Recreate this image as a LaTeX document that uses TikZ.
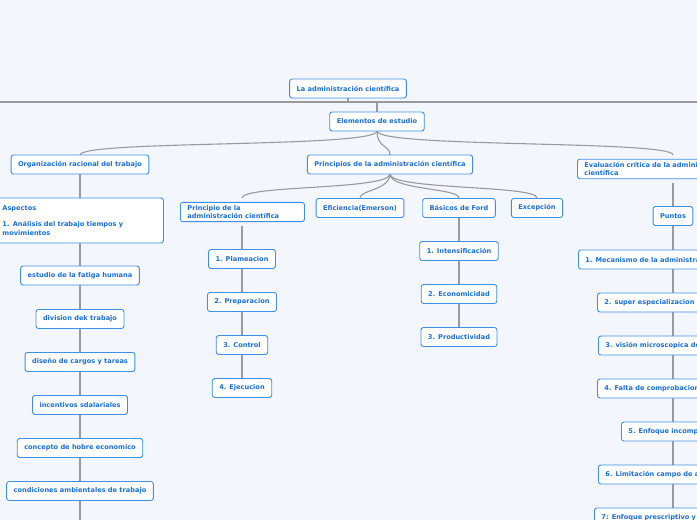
\documentclass[tikz,border=0pt]{standalone}
\usepackage{fontspec}
\setmainfont{DejaVu Sans}
\definecolor{bg}{HTML}{F3F6FD}
\definecolor{tx}{HTML}{1A6FD8}
\definecolor{bd}{HTML}{3D8FE8}
\definecolor{ln}{HTML}{9A9A9E}
\begin{document}
\begin{tikzpicture}[x=1pt,y=-1pt,
  box/.style={draw=bd,line width=0.9pt,fill=white,rounded corners=2.5pt,text=tx,font=\fontsize{6.6}{8.2}\selectfont\bfseries,minimum height=19pt,inner xsep=7pt,inner ysep=3pt},
  lbox/.style={box,align=left,anchor=west},
  con/.style={draw=ln,line width=1.1pt}]
\useasboundingbox (0,0) rectangle (697,520);
\clip (0,0) rectangle (697,520);
\fill[bg] (0,0) rectangle (697,520);
\coordinate (hl) at (0,102);
\coordinate (hr) at (697,102);
\coordinate (bot) at (80,520);
\draw[con] (hl) -- (hr);
\draw[con] (348,98) -- (348,102);
\draw[con] (377,102) -- (377,112);
\draw[con] (80,174) -- (bot);
\draw[con] (242,226) -- (242,388);
\draw[con] (459,217) -- (459,337);
\draw[con] (673,183) -- (673,520);
\draw[con] (377,131) .. controls (377,148) and (80,140) .. (80,155);
\draw[con] (377,131) .. controls (377,148) and (390,145) .. (390,155);
\draw[con] (377,131) .. controls (377,148) and (673,140) .. (673,155);
\draw[con] (390,174) .. controls (390,190) and (242,185) .. (242,198);
\draw[con] (390,174) .. controls (390,190) and (360,190) .. (360,198);
\draw[con] (390,174) .. controls (390,190) and (459,188) .. (459,198);
\draw[con] (390,174) .. controls (390,190) and (537,185) .. (537,198);

\node[box] (root) at (348,88.5) {La administración científica};
\node[box] (el) at (377,121.5) {Elementos de estudio};
\node[box] (org) at (80,164.5) {Organización racional del trabajo};
\node[box] (pri) at (390,164.5) {Principios de la administración científica};
\node[lbox,text width=170pt] (eva) at (577,169) {Evaluación crítica de la administración\\científica};
\node[lbox,text width=154pt,minimum height=45pt] (asp) at (-5,220.5) {Aspectos\\[8pt]1. Análisis del trabajo tiempos y\\movimientos};
\node[box] (o1) at (80,275.5) {estudio de la fatiga humana};
\node[box] (o2) at (80,319) {division dek trabajo};
\node[box] (o3) at (80,362) {diseño de cargos y tareas};
\node[box] (o4) at (80,405) {incentivos sdalariales};
\node[box] (o5) at (80,448) {concepto de hobre economico};
\node[box] (o6) at (80,491) {condiciones ambientales de trabajo};
\node[lbox,text width=110pt] (pa) at (180,212) {Principio de la\\administración científica};
\node[box] (ef) at (360,208) {Eficiencia(Emerson)};
\node[box] (bf) at (459,208) {Básicos de Ford};
\node[box] (ex) at (537,208) {Excepción};
\node[box] (p1) at (242,259) {1. Plameacion};
\node[box] (p2) at (242,302) {2. Preparacion};
\node[box] (p3) at (242,345) {3. Control};
\node[box] (p4) at (242,388) {4. Ejecucion};
\node[box] (f1) at (459,251) {1. Intensificación};
\node[box] (f2) at (459,294) {2. Economicidad};
\node[box] (f3) at (459,337) {3. Productividad};
\node[box] (pu) at (673,216) {Puntos};
\node[lbox] (e1) at (578,259.5) {1. Mecanismo de la administración};
\node[lbox] (e2) at (597,302.5) {2. super especializacion del obrero};
\node[lbox] (e3) at (598,345.5) {3. visión microscopica del hombre};
\node[lbox] (e4) at (597,388.5) {4. Falta de comprobacion científica};
\node[lbox] (e5) at (621,431.5) {5. Enfoque incompleto};
\node[lbox] (e6) at (598,474.5) {6. Limitación campo de aplicación};
\node[lbox] (e7) at (594,517.5) {7: Enfoque prescriptivo y normativo};
\end{tikzpicture}
\end{document}
